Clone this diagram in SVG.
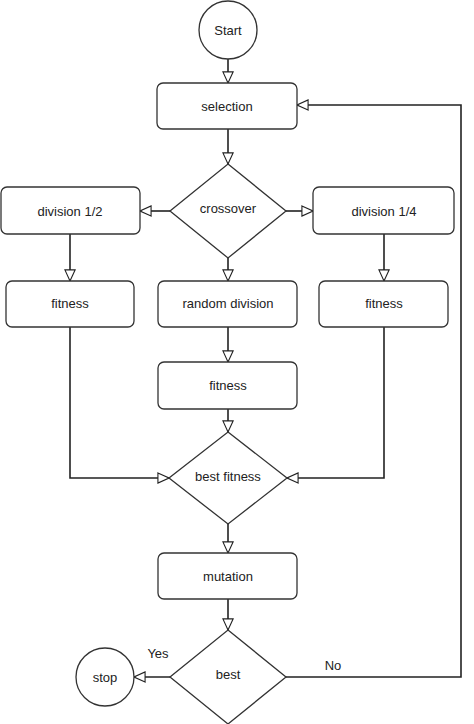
<svg xmlns="http://www.w3.org/2000/svg" width="474" height="724" viewBox="0 0 474 724">
<defs>
<marker id="arr" markerUnits="userSpaceOnUse" markerWidth="14" markerHeight="12" refX="12" refY="5.5" orient="auto" viewBox="-1 -1 14 13">
<path d="M0,0 L12,5.5 L0,11 Z" fill="#fff" stroke="#222" stroke-width="1.2"/>
</marker>
</defs>
<style>
.n{fill:#fff;stroke:#333;stroke-width:1.3}
.t{font-family:"Liberation Sans",Arial,sans-serif;font-size:13px;fill:#222;text-anchor:middle;dominant-baseline:central}
.c{fill:none;stroke:#222;stroke-width:1.6}
</style>
<rect width="474" height="724" fill="#fff"/>
<g id="connectors">
<line class="c" x1="228" y1="59" x2="228" y2="83" marker-end="url(#arr)"/>
<line class="c" x1="228" y1="129" x2="228" y2="164" marker-end="url(#arr)"/>
<line class="c" x1="170" y1="211" x2="140" y2="211" marker-end="url(#arr)"/>
<line class="c" x1="286" y1="211" x2="313" y2="211" marker-end="url(#arr)"/>
<line class="c" x1="70" y1="234" x2="70" y2="281" marker-end="url(#arr)"/>
<line class="c" x1="228" y1="258" x2="228" y2="281" marker-end="url(#arr)"/>
<line class="c" x1="384" y1="234" x2="384" y2="281" marker-end="url(#arr)"/>
<line class="c" x1="228" y1="327" x2="228" y2="362" marker-end="url(#arr)"/>
<line class="c" x1="228" y1="409" x2="228" y2="432" marker-end="url(#arr)"/>
<polyline class="c" points="70,327 70,478 169,478" marker-end="url(#arr)"/>
<polyline class="c" points="384,327 384,478 287,478" marker-end="url(#arr)"/>
<line class="c" x1="228" y1="524" x2="228" y2="553" marker-end="url(#arr)"/>
<line class="c" x1="228" y1="599" x2="228" y2="630" marker-end="url(#arr)"/>
<line class="c" x1="170" y1="677" x2="134" y2="677" marker-end="url(#arr)"/>
<polyline class="c" points="286,677 461,677 461,105 297,105" marker-end="url(#arr)"/>
<text class="t" x="158" y="653">Yes</text>
<text class="t" x="333" y="665">No</text>
</g>
<g id="start"><circle class="n" cx="228" cy="30" r="29"/><text class="t" x="228" y="30">Start</text></g>
<g id="selection"><rect class="n" x="157" y="83" width="140" height="46" rx="6"/><text class="t" x="227" y="106">selection</text></g>
<g id="crossover"><polygon class="n" points="228,164 286,211 228,258 170,211"/><text class="t" x="228" y="208">crossover</text></g>
<g id="div12"><rect class="n" x="1" y="187" width="139" height="47" rx="6"/><text class="t" x="70" y="211">division 1/2</text></g>
<g id="div14"><rect class="n" x="313" y="187" width="141" height="47" rx="6"/><text class="t" x="384" y="211">division 1/4</text></g>
<g id="fitnessL"><rect class="n" x="6" y="281" width="128" height="46" rx="6"/><text class="t" x="70" y="303">fitness</text></g>
<g id="random"><rect class="n" x="158" y="281" width="139" height="46" rx="6"/><text class="t" x="228" y="303">random division</text></g>
<g id="fitnessR"><rect class="n" x="319" y="281" width="129" height="46" rx="6"/><text class="t" x="384" y="303">fitness</text></g>
<g id="fitnessM"><rect class="n" x="158" y="362" width="139" height="47" rx="6"/><text class="t" x="228" y="385">fitness</text></g>
<g id="bestfitness"><polygon class="n" points="228,432 287,478 228,524 169,478"/><text class="t" x="228" y="476">best fitness</text></g>
<g id="mutation"><rect class="n" x="158" y="553" width="139" height="46" rx="6"/><text class="t" x="228" y="576">mutation</text></g>
<g id="best"><polygon class="n" points="228,630 286,677 228,724 170,677"/><text class="t" x="228" y="674">best</text></g>
<g id="stop"><circle class="n" cx="105" cy="677" r="29"/><text class="t" x="105" y="677">stop</text></g>
</svg>
